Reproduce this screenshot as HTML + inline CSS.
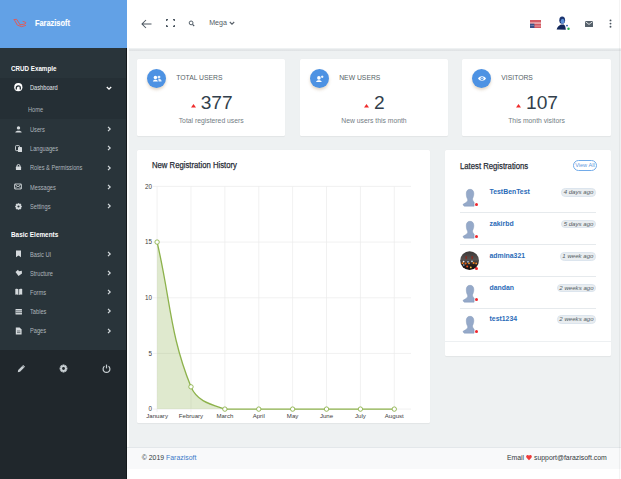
<!DOCTYPE html>
<html><head><meta charset="utf-8">
<style>
*{margin:0;padding:0;box-sizing:border-box}
html,body{width:621px;height:479px;overflow:hidden;background:#fff;font-family:"Liberation Sans",sans-serif}
.a{position:absolute}
.t{position:absolute;white-space:nowrap;line-height:1}
.sx{display:inline-block;transform-origin:0 50%}
.card{position:absolute;background:#fff;border-radius:1.5px;box-shadow:0 0.5px 1px rgba(0,0,0,.05)}
svg{position:absolute;overflow:visible}
</style></head><body>
<div class="a" style="left:0;top:0;width:127px;height:48px;background:#62a1e6"></div>
<div class="a" style="left:0;top:48px;width:127px;height:302px;background:#29343a"></div>
<div class="a" style="left:0;top:350px;width:127px;height:129px;background:#20272c"></div>
<div class="a" style="left:126px;top:48px;width:1px;height:431px;background:#14191c"></div>
<div class="a" style="left:0;top:77.9px;width:126px;height:41.5px;background:#252f35"></div>
<div class="a" style="left:127px;top:0;width:494px;height:48px;background:#fff"></div>
<div class="a" style="left:127px;top:48px;width:494px;height:399px;background:#eef1f2"></div>
<div class="a" style="left:127px;top:48.8px;width:494px;height:2px;background:linear-gradient(#e6e9eb,#dfe2e4)"></div>
<div class="a" style="left:127px;top:48px;width:1.6px;height:431px;background:#fbfcfc;z-index:0"></div>
<div class="a" style="left:127px;top:447px;width:494px;height:22px;background:#f8f9fa;border-top:0.8px solid #e3e7ea"></div>

<svg style="left:13px;top:18px" width="14" height="10" viewBox="0 0 14 10">
<path d="M1.2,1.6 L3.6,1.3 L7.2,6.8 M1.2,1.6 L4.3,7.1 L8.5,8.7 L12.6,7.5 M10,3.4 L12.8,4.4 L12.1,6 L7.2,6.8" fill="none" stroke="#e25a55" stroke-width="0.95" stroke-linejoin="round" stroke-linecap="round"/>
</svg>
<div class="t" style="left:35px;top:19.16px;color:#fff;font-weight:bold;font-size:8.8px;-webkit-text-stroke:0.15px #fff"><span class="sx" style="transform:scaleX(.84)">Farazisoft</span></div>
<div class="t" style="left:11px;top:65.34px;color:#fff;font-weight:bold;font-size:7.8px"><span class="sx" style="transform:scaleX(0.8)">CRUD Example</span></div>
<div class="t" style="left:11px;top:230.74px;color:#fff;font-weight:bold;font-size:7.8px"><span class="sx" style="transform:scaleX(0.82)">Basic Elements</span></div>
<svg style="left:13.8px;top:83px" width="9" height="9" viewBox="0 0 9 9"><circle cx="4.3" cy="4.2" r="4.1" fill="#fff"/><path d="M2.3,6.6 V5 A2,2 0 0 1 6.3,5 V6.6" fill="none" stroke="#252f35" stroke-width="1.3"/><path d="M4.3,6.6 L4.9,3.6" stroke="#fff" stroke-width="0.9"/></svg>
<div class="t" style="left:29.8px;top:84.33px;color:#e3e7ea;font-size:7px"><span class="sx" style="transform:scaleX(.81)">Dashboard</span></div>
<svg style="left:106.1px;top:84.6px" width="6" height="6" viewBox="0 0 6 6"><path d="M0.8,2 L3,4.2 L5.2,2" fill="none" stroke="#fff" stroke-width="1.3"/></svg>
<div class="t" style="left:28.2px;top:105.83px;color:#aab2b8;font-size:7px"><span class="sx" style="transform:scaleX(.81)">Home</span></div>
<svg style="left:14.7px;top:125.6px" width="7" height="7.5" viewBox="0 0 7 7.5"><circle cx="3.5" cy="1.9" r="1.7" fill="#d5dadd"/><path d="M0.3,6.6 C0.3,4.2 6.7,4.2 6.7,6.6 Z" fill="#d5dadd"/></svg>
<div class="t" style="left:29.6px;top:125.83px;color:#aeb6bc;font-size:7px"><span class="sx" style="transform:scaleX(.81)">Users</span></div>
<svg style="left:106px;top:125.89999999999998px" width="6" height="6" viewBox="0 0 6 6"><path d="M2,0.8 L4.2,3 L2,5.2" fill="none" stroke="#d5dbde" stroke-width="1.2"/></svg>
<svg style="left:14.7px;top:144.9px" width="7" height="7.5" viewBox="0 0 7 7.5"><rect x="0.5" y="0.6" width="4" height="5" rx="0.8" fill="none" stroke="#d5dadd" stroke-width="0.9"/><rect x="3" y="2" width="4" height="5" rx="0.6" fill="#d5dadd"/></svg>
<div class="t" style="left:29.6px;top:145.13px;color:#aeb6bc;font-size:7px"><span class="sx" style="transform:scaleX(.81)">Languages</span></div>
<svg style="left:106px;top:145.2px" width="6" height="6" viewBox="0 0 6 6"><path d="M2,0.8 L4.2,3 L2,5.2" fill="none" stroke="#d5dbde" stroke-width="1.2"/></svg>
<svg style="left:14.7px;top:164.2px" width="7" height="7.5" viewBox="0 0 7 7.5"><path d="M2,3 V2 A1.5,1.5 0 0 1 5,2 V3" fill="none" stroke="#d5dadd" stroke-width="1"/><rect x="0.9" y="2.6" width="5.2" height="3.4" rx="0.6" fill="#d5dadd"/></svg>
<div class="t" style="left:29.6px;top:164.43px;color:#aeb6bc;font-size:7px"><span class="sx" style="transform:scaleX(.81)">Roles &amp; Permissions</span></div>
<svg style="left:106px;top:164.5px" width="6" height="6" viewBox="0 0 6 6"><path d="M2,0.8 L4.2,3 L2,5.2" fill="none" stroke="#d5dbde" stroke-width="1.2"/></svg>
<svg style="left:14.2px;top:183.4px" width="8" height="7.5" viewBox="0 0 8 7.5"><rect x="0.6" y="1" width="6.8" height="5" rx="0.4" fill="none" stroke="#d5dadd" stroke-width="0.9"/><path d="M0.8,1.3 L4,3.8 L7.2,1.3 M0.8,5.8 L3,3.4 M7.2,5.8 L5,3.4" fill="none" stroke="#d5dadd" stroke-width="0.8"/></svg>
<div class="t" style="left:29.6px;top:183.63px;color:#aeb6bc;font-size:7px"><span class="sx" style="transform:scaleX(.81)">Messages</span></div>
<svg style="left:106px;top:183.7px" width="6" height="6" viewBox="0 0 6 6"><path d="M2,0.8 L4.2,3 L2,5.2" fill="none" stroke="#d5dbde" stroke-width="1.2"/></svg>
<svg style="left:14.7px;top:202.6px" width="7" height="7.5" viewBox="0 0 7 7.5"><path d="M5.69,2.52 L6.81,2.72 L6.81,4.28 L5.69,4.48 L5.74,4.36 L6.39,5.29 L5.29,6.39 L4.36,5.74 L4.48,5.69 L4.28,6.81 L2.72,6.81 L2.52,5.69 L2.64,5.74 L1.71,6.39 L0.61,5.29 L1.26,4.36 L1.31,4.48 L0.19,4.28 L0.19,2.72 L1.31,2.52 L1.26,2.64 L0.61,1.71 L1.71,0.61 L2.64,1.26 L2.52,1.31 L2.72,0.19 L4.28,0.19 L4.48,1.31 L4.36,1.26 L5.29,0.61 L6.39,1.71 L5.74,2.64 Z" fill="#d5dadd"/><circle cx="3.5" cy="3.5" r="1.1" fill="#29343a"/></svg>
<div class="t" style="left:29.6px;top:202.83px;color:#aeb6bc;font-size:7px"><span class="sx" style="transform:scaleX(.81)">Settings</span></div>
<svg style="left:106px;top:202.89999999999998px" width="6" height="6" viewBox="0 0 6 6"><path d="M2,0.8 L4.2,3 L2,5.2" fill="none" stroke="#d5dbde" stroke-width="1.2"/></svg>
<svg style="left:14.5px;top:250.1px" width="7.5" height="7.6" viewBox="0 0 7.5 7.6"><path d="M1,0.5 H6 V7.2 L3.5,5.4 L1,7.2 Z" fill="#d5dadd"/></svg>
<div class="t" style="left:29.6px;top:250.53px;color:#aeb6bc;font-size:7px"><span class="sx" style="transform:scaleX(.81)">Basic UI</span></div>
<svg style="left:106px;top:250.6px" width="6" height="6" viewBox="0 0 6 6"><path d="M2,0.8 L4.2,3 L2,5.2" fill="none" stroke="#d5dbde" stroke-width="1.2"/></svg>
<svg style="left:14.5px;top:269.2px" width="7.5" height="7.6" viewBox="0 0 7.5 7.6"><path d="M0.5,3 L3,0.8 L4,2.2 L6.8,1.8 L7,4.6 L3.5,7 Z" fill="#d5dadd"/></svg>
<div class="t" style="left:29.6px;top:269.63px;color:#aeb6bc;font-size:7px"><span class="sx" style="transform:scaleX(.81)">Structure</span></div>
<svg style="left:106px;top:269.7px" width="6" height="6" viewBox="0 0 6 6"><path d="M2,0.8 L4.2,3 L2,5.2" fill="none" stroke="#d5dbde" stroke-width="1.2"/></svg>
<svg style="left:14.5px;top:288.4px" width="7.5" height="7.6" viewBox="0 0 7.5 7.6"><path d="M0.3,1 C1.8,0.4 2.8,0.6 3.4,1.2 V7 C2.8,6.4 1.8,6.2 0.3,6.8 Z M7.2,1 C5.7,0.4 4.7,0.6 4.1,1.2 V7 C4.7,6.4 5.7,6.2 7.2,6.8 Z" fill="#d5dadd"/></svg>
<div class="t" style="left:29.6px;top:288.83px;color:#aeb6bc;font-size:7px"><span class="sx" style="transform:scaleX(.81)">Forms</span></div>
<svg style="left:106px;top:288.9px" width="6" height="6" viewBox="0 0 6 6"><path d="M2,0.8 L4.2,3 L2,5.2" fill="none" stroke="#d5dbde" stroke-width="1.2"/></svg>
<svg style="left:14.5px;top:307.6px" width="7.5" height="7.6" viewBox="0 0 7.5 7.6"><rect x="0.5" y="1" width="6.5" height="5.5" rx="0.5" fill="#d5dadd"/><path d="M0.5,2.8 H7 M0.5,4.6 H7" stroke="#29343a" stroke-width="0.6"/></svg>
<div class="t" style="left:29.6px;top:308.03px;color:#aeb6bc;font-size:7px"><span class="sx" style="transform:scaleX(.81)">Tables</span></div>
<svg style="left:106px;top:308.09999999999997px" width="6" height="6" viewBox="0 0 6 6"><path d="M2,0.8 L4.2,3 L2,5.2" fill="none" stroke="#d5dbde" stroke-width="1.2"/></svg>
<svg style="left:14.5px;top:327.0px" width="7.5" height="7.6" viewBox="0 0 7.5 7.6"><path d="M0.8,0.4 H4.6 L6.6,2.4 V7.4 H0.8 Z" fill="#d5dadd"/><path d="M2,4 H5.4 M2,5.6 H5.4" stroke="#29343a" stroke-width="0.6"/></svg>
<div class="t" style="left:29.6px;top:327.43px;color:#aeb6bc;font-size:7px"><span class="sx" style="transform:scaleX(.81)">Pages</span></div>
<svg style="left:106px;top:327.5px" width="6" height="6" viewBox="0 0 6 6"><path d="M2,0.8 L4.2,3 L2,5.2" fill="none" stroke="#d5dbde" stroke-width="1.2"/></svg>
<svg style="left:16.5px;top:363.5px" width="9" height="9" viewBox="0 0 9 9"><path d="M0.8,8.2 L1.2,6 L6.2,1 L8,2.8 L3,7.8 Z" fill="#c8cfd3"/><path d="M5.4,1.8 L7.2,3.6" stroke="#20272c" stroke-width="0.5"/></svg>
<svg style="left:59.1px;top:363.7px" width="9" height="9" viewBox="0 0 9 9"><path d="M7.15,3.32 L8.39,3.58 L8.39,5.42 L7.15,5.68 L7.21,5.54 L7.90,6.61 L6.61,7.90 L5.54,7.21 L5.68,7.15 L5.42,8.39 L3.58,8.39 L3.32,7.15 L3.46,7.21 L2.39,7.90 L1.10,6.61 L1.79,5.54 L1.85,5.68 L0.61,5.42 L0.61,3.58 L1.85,3.32 L1.79,3.46 L1.10,2.39 L2.39,1.10 L3.46,1.79 L3.32,1.85 L3.58,0.61 L5.42,0.61 L5.68,1.85 L5.54,1.79 L6.61,1.10 L7.90,2.39 L7.21,3.46 Z" fill="#c8cfd3"/><circle cx="4.5" cy="4.5" r="1.4" fill="#20272c"/></svg>
<svg style="left:101.5px;top:363.5px" width="9" height="9" viewBox="0 0 9 9"><path d="M2.5,2.3 A3.4,3.4 0 1 0 6.5,2.3" fill="none" stroke="#c8cfd3" stroke-width="1.2"/><path d="M4.5,0.6 V4.4" stroke="#c8cfd3" stroke-width="1.2"/></svg>
<svg style="left:141px;top:18.5px" width="11" height="10" viewBox="0 0 11 10"><path d="M10.5,5 H1.2 M5,1 L1,5 L5,9" fill="none" stroke="#4d5761" stroke-width="1.05"/></svg>
<svg style="left:165.5px;top:19px" width="9" height="8" viewBox="0 0 9 8"><path d="M0.6,2 V0.6 H2 M7,0.6 H8.4 V2 M8.4,6 V7.4 H7 M2,7.4 H0.6 V6" fill="none" stroke="#4a5560" stroke-width="1.1"/></svg>
<svg style="left:187.5px;top:20px" width="8" height="7" viewBox="0 0 8 7"><circle cx="3.1" cy="2.9" r="1.9" fill="none" stroke="#4a5560" stroke-width="0.95"/><path d="M4.5,4.3 L6.2,6" stroke="#4a5560" stroke-width="1.1"/></svg>
<div class="t" style="left:209.2px;top:20.18px;color:#535c64;font-size:7.1px">Mega</div>
<svg style="left:228.8px;top:20.2px" width="6" height="6" viewBox="0 0 6 6"><path d="M0.8,2 L3,4.2 L5.2,2" fill="none" stroke="#59626a" stroke-width="1.1"/></svg>
<svg style="left:530px;top:19.5px" width="11" height="8" viewBox="0 0 11 8"><rect width="11" height="8" fill="#d35a63"/><rect y="2.4" width="11" height="1.3" fill="#eec3c6"/><rect y="5.6" width="11" height="0.9" fill="#e9a5aa"/><rect x="0" y="3.7" width="4.4" height="4.3" fill="#3a4f86"/><rect x="0.4" y="5" width="3.6" height="0.6" fill="#8a9cc4"/></svg>
<svg style="left:556px;top:15.5px" width="14" height="15" viewBox="0 0 14 15"><path d="M0.6,13.6 C1.2,10.4 3.4,9.4 5,8.4 L7.8,8.4 C9,9.2 9.6,10.6 9.8,13.8 Z" fill="#12275a"/><ellipse cx="6.2" cy="4.2" rx="2.9" ry="3.6" fill="#1b3470"/><ellipse cx="6.6" cy="5.2" rx="1.9" ry="2.5" fill="#5b8fd6"/><circle cx="11" cy="9.6" r="0.9" fill="#2553b0"/><circle cx="12.5" cy="12.7" r="1.25" fill="#22b04f"/></svg>
<svg style="left:585px;top:20.5px" width="8" height="6" viewBox="0 0 8 6"><rect x="0" y="0" width="8" height="6" rx="0.6" fill="#56616b"/><path d="M0.5,0.8 L4,3.4 L7.5,0.8" fill="none" stroke="#fff" stroke-width="0.8"/></svg>
<svg style="left:608.5px;top:18.5px" width="3" height="9" viewBox="0 0 3 9"><circle cx="1.5" cy="1.4" r="0.95" fill="#4a5560"/><circle cx="1.5" cy="4.6" r="0.95" fill="#4a5560"/><circle cx="1.5" cy="7.8" r="0.95" fill="#4a5560"/></svg>
<div class="card" style="left:137px;top:58.5px;width:148.4px;height:77px"></div>
<div class="a" style="left:146.6px;top:68.6px;width:19.8px;height:19.8px;border-radius:50%;background:#4d92e3;box-shadow:0 2px 3px rgba(150,110,60,.28)"></div>
<svg style="left:151.5px;top:74.6px" width="10" height="8" viewBox="0 0 10 8"><circle cx="3.4" cy="2.5" r="1.75" fill="#fff"/><path d="M0.9,6.4 C1,4.1 5.8,4.1 5.9,6.4 Z" fill="#fff"/><circle cx="7" cy="2.1" r="1.4" fill="#fff" opacity=".85"/><path d="M6.3,3.9 C8.2,3.7 9.6,4.6 9.6,6.4 H6.6 Z" fill="#fff" opacity=".85"/></svg>
<div class="t" style="left:176.2px;top:75.22px;color:#565f67;font-size:6.8px">TOTAL USERS</div>
<div class="t" style="left:137.0px;width:148.4px;text-align:center;top:118.32px;color:#737c84;font-size:6.8px">Total registered users</div>
<svg style="left:190.9px;top:103.6px" width="5" height="3.4" viewBox="0 0 5 3.4"><path d="M2.5,0 L5,3.4 H0 Z" fill="#ef2b2b"/></svg>
<div class="t" style="left:200.7px;top:93.15px;color:#323f4c;font-size:19.2px">377</div>
<div class="card" style="left:300px;top:58.5px;width:147.9px;height:77px"></div>
<div class="a" style="left:309.6px;top:68.6px;width:19.8px;height:19.8px;border-radius:50%;background:#4d92e3;box-shadow:0 2px 3px rgba(150,110,60,.28)"></div>
<svg style="left:314.5px;top:74.6px" width="10" height="8" viewBox="0 0 10 8"><circle cx="3.9" cy="2.9" r="1.8" fill="#fff"/><path d="M1.1,7 C1.2,4.6 6.6,4.6 6.7,7 Z" fill="#fff"/><path d="M7.2,0.6 V3 M6,1.8 H8.4" stroke="#fff" stroke-width="1"/></svg>
<div class="t" style="left:339.2px;top:75.22px;color:#565f67;font-size:6.8px">NEW USERS</div>
<div class="t" style="left:300.0px;width:147.9px;text-align:center;top:118.32px;color:#737c84;font-size:6.8px">New users this month</div>
<svg style="left:364.3px;top:103.6px" width="5" height="3.4" viewBox="0 0 5 3.4"><path d="M2.5,0 L5,3.4 H0 Z" fill="#ef2b2b"/></svg>
<div class="t" style="left:374.1px;top:93.15px;color:#323f4c;font-size:19.2px">2</div>
<div class="card" style="left:462.1px;top:58.5px;width:148.9px;height:77px"></div>
<div class="a" style="left:471.7px;top:68.6px;width:19.8px;height:19.8px;border-radius:50%;background:#4d92e3;box-shadow:0 2px 3px rgba(150,110,60,.28)"></div>
<svg style="left:476.6px;top:74.6px" width="10" height="8" viewBox="0 0 10 8"><path d="M1,3.5 C2.8,0.6 7.2,0.6 9,3.5 C7.2,6.4 2.8,6.4 1,3.5 Z" fill="#fff"/><circle cx="5" cy="3.6" r="1.6" fill="#4d92e3"/><circle cx="5" cy="3.6" r="0.7" fill="#fff"/></svg>
<div class="t" style="left:501.3px;top:75.22px;color:#565f67;font-size:6.8px">VISITORS</div>
<div class="t" style="left:462.1px;width:148.9px;text-align:center;top:118.32px;color:#737c84;font-size:6.8px">This month visitors</div>
<svg style="left:516.2px;top:103.6px" width="5" height="3.4" viewBox="0 0 5 3.4"><path d="M2.5,0 L5,3.4 H0 Z" fill="#ef2b2b"/></svg>
<div class="t" style="left:526.0px;top:93.15px;color:#323f4c;font-size:19.2px">107</div>
<div class="card" style="left:137px;top:150px;width:293px;height:272.5px"></div>
<div class="t" style="left:151.9px;top:161.47px;color:#1f2a34;font-size:9.2px;-webkit-text-stroke:0.25px #1f2a34"><span class="sx" style="transform:scaleX(.84)">New Registration History</span></div>
<svg style="left:0;top:0" width="621" height="479" viewBox="0 0 621 479"><path d="M153,409.10 H411" stroke="#ebebeb" stroke-width="0.7"/><path d="M153,353.43 H411" stroke="#ebebeb" stroke-width="0.7"/><path d="M153,297.75 H411" stroke="#ebebeb" stroke-width="0.7"/><path d="M153,242.07 H411" stroke="#ebebeb" stroke-width="0.7"/><path d="M153,186.40 H411" stroke="#ebebeb" stroke-width="0.7"/><path d="M157.10,186.40 V412" stroke="#ebebeb" stroke-width="0.7"/><path d="M190.99,186.40 V412" stroke="#ebebeb" stroke-width="0.7"/><path d="M224.87,186.40 V412" stroke="#ebebeb" stroke-width="0.7"/><path d="M258.76,186.40 V412" stroke="#ebebeb" stroke-width="0.7"/><path d="M292.64,186.40 V412" stroke="#ebebeb" stroke-width="0.7"/><path d="M326.53,186.40 V412" stroke="#ebebeb" stroke-width="0.7"/><path d="M360.42,186.40 V412" stroke="#ebebeb" stroke-width="0.7"/><path d="M394.30,186.40 V412" stroke="#ebebeb" stroke-width="0.7"/><path d="M157.10,242.07 C170.65,299.98 169.69,334.34 190.99,386.83 C196.80,401.15 210.10,404.25 224.87,409.10 L394.30,409.10 L394.3,409.1 L157.1,409.1 Z" fill="rgba(140,176,80,0.28)"/><path d="M157.10,242.07 C170.65,299.98 169.69,334.34 190.99,386.83 C196.80,401.15 210.10,404.25 224.87,409.10 L394.30,409.10" fill="none" stroke="#8db24c" stroke-width="1.3"/><circle cx="157.10" cy="242.07" r="2.2" fill="#fff" stroke="#8db24c" stroke-width="0.9"/><circle cx="190.99" cy="386.83" r="2.2" fill="#fff" stroke="#8db24c" stroke-width="0.9"/><circle cx="224.87" cy="409.10" r="2.2" fill="#fff" stroke="#8db24c" stroke-width="0.9"/><circle cx="258.76" cy="409.10" r="2.2" fill="#fff" stroke="#8db24c" stroke-width="0.9"/><circle cx="292.64" cy="409.10" r="2.2" fill="#fff" stroke="#8db24c" stroke-width="0.9"/><circle cx="326.53" cy="409.10" r="2.2" fill="#fff" stroke="#8db24c" stroke-width="0.9"/><circle cx="360.42" cy="409.10" r="2.2" fill="#fff" stroke="#8db24c" stroke-width="0.9"/><circle cx="394.30" cy="409.10" r="2.2" fill="#fff" stroke="#8db24c" stroke-width="0.9"/></svg>
<div class="t" style="left:130px;width:22px;text-align:right;top:406.26px;color:#3d3d3d;font-size:6.3px">0</div>
<div class="t" style="left:130px;width:22px;text-align:right;top:350.59px;color:#3d3d3d;font-size:6.3px">5</div>
<div class="t" style="left:130px;width:22px;text-align:right;top:294.91px;color:#3d3d3d;font-size:6.3px">10</div>
<div class="t" style="left:130px;width:22px;text-align:right;top:239.24px;color:#3d3d3d;font-size:6.3px">15</div>
<div class="t" style="left:130px;width:22px;text-align:right;top:183.56px;color:#3d3d3d;font-size:6.3px">20</div>
<div class="t" style="left:132.10px;width:50px;text-align:center;top:412.66px;color:#3d3d3d;font-size:6.1px">January</div>
<div class="t" style="left:165.99px;width:50px;text-align:center;top:412.66px;color:#3d3d3d;font-size:6.1px">February</div>
<div class="t" style="left:199.87px;width:50px;text-align:center;top:412.66px;color:#3d3d3d;font-size:6.1px">March</div>
<div class="t" style="left:233.76px;width:50px;text-align:center;top:412.66px;color:#3d3d3d;font-size:6.1px">April</div>
<div class="t" style="left:267.64px;width:50px;text-align:center;top:412.66px;color:#3d3d3d;font-size:6.1px">May</div>
<div class="t" style="left:301.53px;width:50px;text-align:center;top:412.66px;color:#3d3d3d;font-size:6.1px">June</div>
<div class="t" style="left:335.42px;width:50px;text-align:center;top:412.66px;color:#3d3d3d;font-size:6.1px">July</div>
<div class="t" style="left:369.30px;width:50px;text-align:center;top:412.66px;color:#3d3d3d;font-size:6.1px">August</div>
<div class="card" style="left:445px;top:150px;width:166px;height:205.7px"></div>
<div class="t" style="left:459.7px;top:161.67px;color:#1f2a34;font-size:9.2px;-webkit-text-stroke:0.25px #1f2a34"><span class="sx" style="transform:scaleX(.84)">Latest Registrations</span></div>
<div class="a" style="left:572.8px;top:160.4px;width:24px;height:11px;border:0.95px solid #72abe9;border-radius:6px"></div>
<div class="t" style="left:572.8px;width:24.2px;text-align:center;top:163.40px;color:#5f9be0;font-size:5.6px">View All</div>
<div class="t" style="left:489.5px;top:189.27px;color:#2a6bb8;font-weight:bold;font-size:6.9px">TestBenTest</div>
<div class="a" style="left:561.3px;top:188.0px;width:34.5px;height:8.6px;border-radius:4.3px;background:#e9edf0;border:0.6px solid #dce5ee"></div>
<div class="t" style="left:561.3px;width:34.5px;text-align:center;top:189.26px;color:#555d65;font-style:italic;font-size:6.1px">4 days ago</div>
<svg style="left:462px;top:188.9px" width="14" height="18" viewBox="0 0 14 18"><path d="M8,0.3 C10.6,0.3 11.8,2 11.8,4.6 C11.8,6.8 11.2,8.4 10.6,9.4 C10.4,10.8 10.8,12 12.1,13 L12.1,17.2 L2.4,17.2 C1.5,16.8 1,16 1.1,15.3 C2.6,14.4 4.6,13.4 5.6,12 C5.9,11 5.6,10 4.9,8.8 C4.5,7.6 4.3,6 4.3,4.6 C4.3,2 5.6,0.3 8,0.3 Z" fill="#95a9c9" stroke="#7e93b6" stroke-width="0.45"/></svg>
<div class="a" style="left:475.4px;top:202.8px;width:3px;height:3px;border-radius:50%;background:#f0262c"></div>
<div class="t" style="left:489.5px;top:221.07px;color:#2a6bb8;font-weight:bold;font-size:6.9px">zakirbd</div>
<div class="a" style="left:561.3px;top:219.8px;width:34.5px;height:8.6px;border-radius:4.3px;background:#e9edf0;border:0.6px solid #dce5ee"></div>
<div class="t" style="left:561.3px;width:34.5px;text-align:center;top:221.06px;color:#555d65;font-style:italic;font-size:6.1px">5 days ago</div>
<svg style="left:462px;top:220.7px" width="14" height="18" viewBox="0 0 14 18"><path d="M8,0.3 C10.6,0.3 11.8,2 11.8,4.6 C11.8,6.8 11.2,8.4 10.6,9.4 C10.4,10.8 10.8,12 12.1,13 L12.1,17.2 L2.4,17.2 C1.5,16.8 1,16 1.1,15.3 C2.6,14.4 4.6,13.4 5.6,12 C5.9,11 5.6,10 4.9,8.8 C4.5,7.6 4.3,6 4.3,4.6 C4.3,2 5.6,0.3 8,0.3 Z" fill="#95a9c9" stroke="#7e93b6" stroke-width="0.45"/></svg>
<div class="a" style="left:475.4px;top:234.6px;width:3px;height:3px;border-radius:50%;background:#f0262c"></div>
<div class="t" style="left:489.5px;top:253.27px;color:#2a6bb8;font-weight:bold;font-size:6.9px">admina321</div>
<div class="a" style="left:560.1px;top:252.0px;width:35.7px;height:8.6px;border-radius:4.3px;background:#e9edf0;border:0.6px solid #dce5ee"></div>
<div class="t" style="left:560.1px;width:35.7px;text-align:center;top:253.26px;color:#555d65;font-style:italic;font-size:6.1px">1 week ago</div>
<svg style="left:459.8px;top:250.5px" width="20" height="20" viewBox="0 0 20 20"><defs><linearGradient id="ag" x1="0" y1="0" x2="0" y2="1"><stop offset="0" stop-color="#3a3635"/><stop offset=".45" stop-color="#575352"/><stop offset=".7" stop-color="#2a2221"/><stop offset="1" stop-color="#120c0b"/></linearGradient></defs><circle cx="9.6" cy="9.6" r="9.4" fill="url(#ag)"/><rect x="5.5" y="5" width="1.4" height="3.2" fill="#8a2a1e"/><rect x="11.5" y="5" width="1.4" height="3.2" fill="#8a2a1e"/><circle cx="3.6" cy="10.6" r="0.9" fill="#f2f2f2"/><circle cx="8" cy="10.8" r="0.9" fill="#9fc4ea"/><circle cx="12" cy="10.4" r="0.8" fill="#cfe0f0"/><circle cx="2.5" cy="12.2" r="0.9" fill="#ff7a10"/><circle cx="5.6" cy="12.6" r="1" fill="#e8641a"/><circle cx="9" cy="12.3" r="0.9" fill="#f59a2a"/><circle cx="13.6" cy="12" r="1" fill="#f08020"/><circle cx="16.2" cy="12.4" r="0.9" fill="#f29030"/><circle cx="3.8" cy="14" r="0.8" fill="#8ec0e8"/><circle cx="7.2" cy="15.6" r="1" fill="#e84a1a"/><circle cx="10.8" cy="16.4" r="0.9" fill="#f6c040"/></svg>
<div class="a" style="left:475.4px;top:266.8px;width:3px;height:3px;border-radius:50%;background:#f0262c"></div>
<div class="t" style="left:489.5px;top:284.87px;color:#2a6bb8;font-weight:bold;font-size:6.9px">dandan</div>
<div class="a" style="left:557.1px;top:283.6px;width:38.7px;height:8.6px;border-radius:4.3px;background:#e9edf0;border:0.6px solid #dce5ee"></div>
<div class="t" style="left:557.1px;width:38.7px;text-align:center;top:284.86px;color:#555d65;font-style:italic;font-size:6.1px">2 weeks ago</div>
<svg style="left:462px;top:284.5px" width="14" height="18" viewBox="0 0 14 18"><path d="M8,0.3 C10.6,0.3 11.8,2 11.8,4.6 C11.8,6.8 11.2,8.4 10.6,9.4 C10.4,10.8 10.8,12 12.1,13 L12.1,17.2 L2.4,17.2 C1.5,16.8 1,16 1.1,15.3 C2.6,14.4 4.6,13.4 5.6,12 C5.9,11 5.6,10 4.9,8.8 C4.5,7.6 4.3,6 4.3,4.6 C4.3,2 5.6,0.3 8,0.3 Z" fill="#95a9c9" stroke="#7e93b6" stroke-width="0.45"/></svg>
<div class="a" style="left:475.4px;top:298.4px;width:3px;height:3px;border-radius:50%;background:#f0262c"></div>
<div class="t" style="left:489.5px;top:316.47px;color:#2a6bb8;font-weight:bold;font-size:6.9px">test1234</div>
<div class="a" style="left:557.1px;top:315.2px;width:38.7px;height:8.6px;border-radius:4.3px;background:#e9edf0;border:0.6px solid #dce5ee"></div>
<div class="t" style="left:557.1px;width:38.7px;text-align:center;top:316.46px;color:#555d65;font-style:italic;font-size:6.1px">2 weeks ago</div>
<svg style="left:462px;top:316.1px" width="14" height="18" viewBox="0 0 14 18"><path d="M8,0.3 C10.6,0.3 11.8,2 11.8,4.6 C11.8,6.8 11.2,8.4 10.6,9.4 C10.4,10.8 10.8,12 12.1,13 L12.1,17.2 L2.4,17.2 C1.5,16.8 1,16 1.1,15.3 C2.6,14.4 4.6,13.4 5.6,12 C5.9,11 5.6,10 4.9,8.8 C4.5,7.6 4.3,6 4.3,4.6 C4.3,2 5.6,0.3 8,0.3 Z" fill="#95a9c9" stroke="#7e93b6" stroke-width="0.45"/></svg>
<div class="a" style="left:475.4px;top:330.0px;width:3px;height:3px;border-radius:50%;background:#f0262c"></div>
<div class="a" style="left:459.9px;top:211.9px;width:135.9px;height:0.8px;background:#e6eaed"></div>
<div class="a" style="left:459.9px;top:244.0px;width:135.9px;height:0.8px;background:#e6eaed"></div>
<div class="a" style="left:459.9px;top:275.8px;width:135.9px;height:0.8px;background:#e6eaed"></div>
<div class="a" style="left:459.9px;top:307.9px;width:135.9px;height:0.8px;background:#e6eaed"></div>
<div class="a" style="left:445px;top:340.9px;width:166px;height:0.8px;background:#edf0f2"></div>
<div class="t" style="left:141.8px;top:455.37px;color:#333a40;font-size:6.9px">© 2019 <span style="color:#3a79c9">Farazisoft</span></div>
<div class="t" style="right:14.2px;top:455.37px;color:#333a40;font-size:6.9px">Email <svg style="position:relative;display:inline-block;vertical-align:-0.5px" width="6" height="5.5" viewBox="0 0 6 5.5"><path d="M3,5.3 L0.6,2.8 C-0.4,1.6 0.4,0.1 1.6,0.1 C2.3,0.1 2.8,0.6 3,1 C3.2,0.6 3.7,0.1 4.4,0.1 C5.6,0.1 6.4,1.6 5.4,2.8 Z" fill="#ee3b3b"/></svg> support@farazisoft.com</div>
<div class="a" style="left:619.4px;top:0;width:0.9px;height:479px;background:rgba(0,0,0,.045)"></div>
</body></html>
